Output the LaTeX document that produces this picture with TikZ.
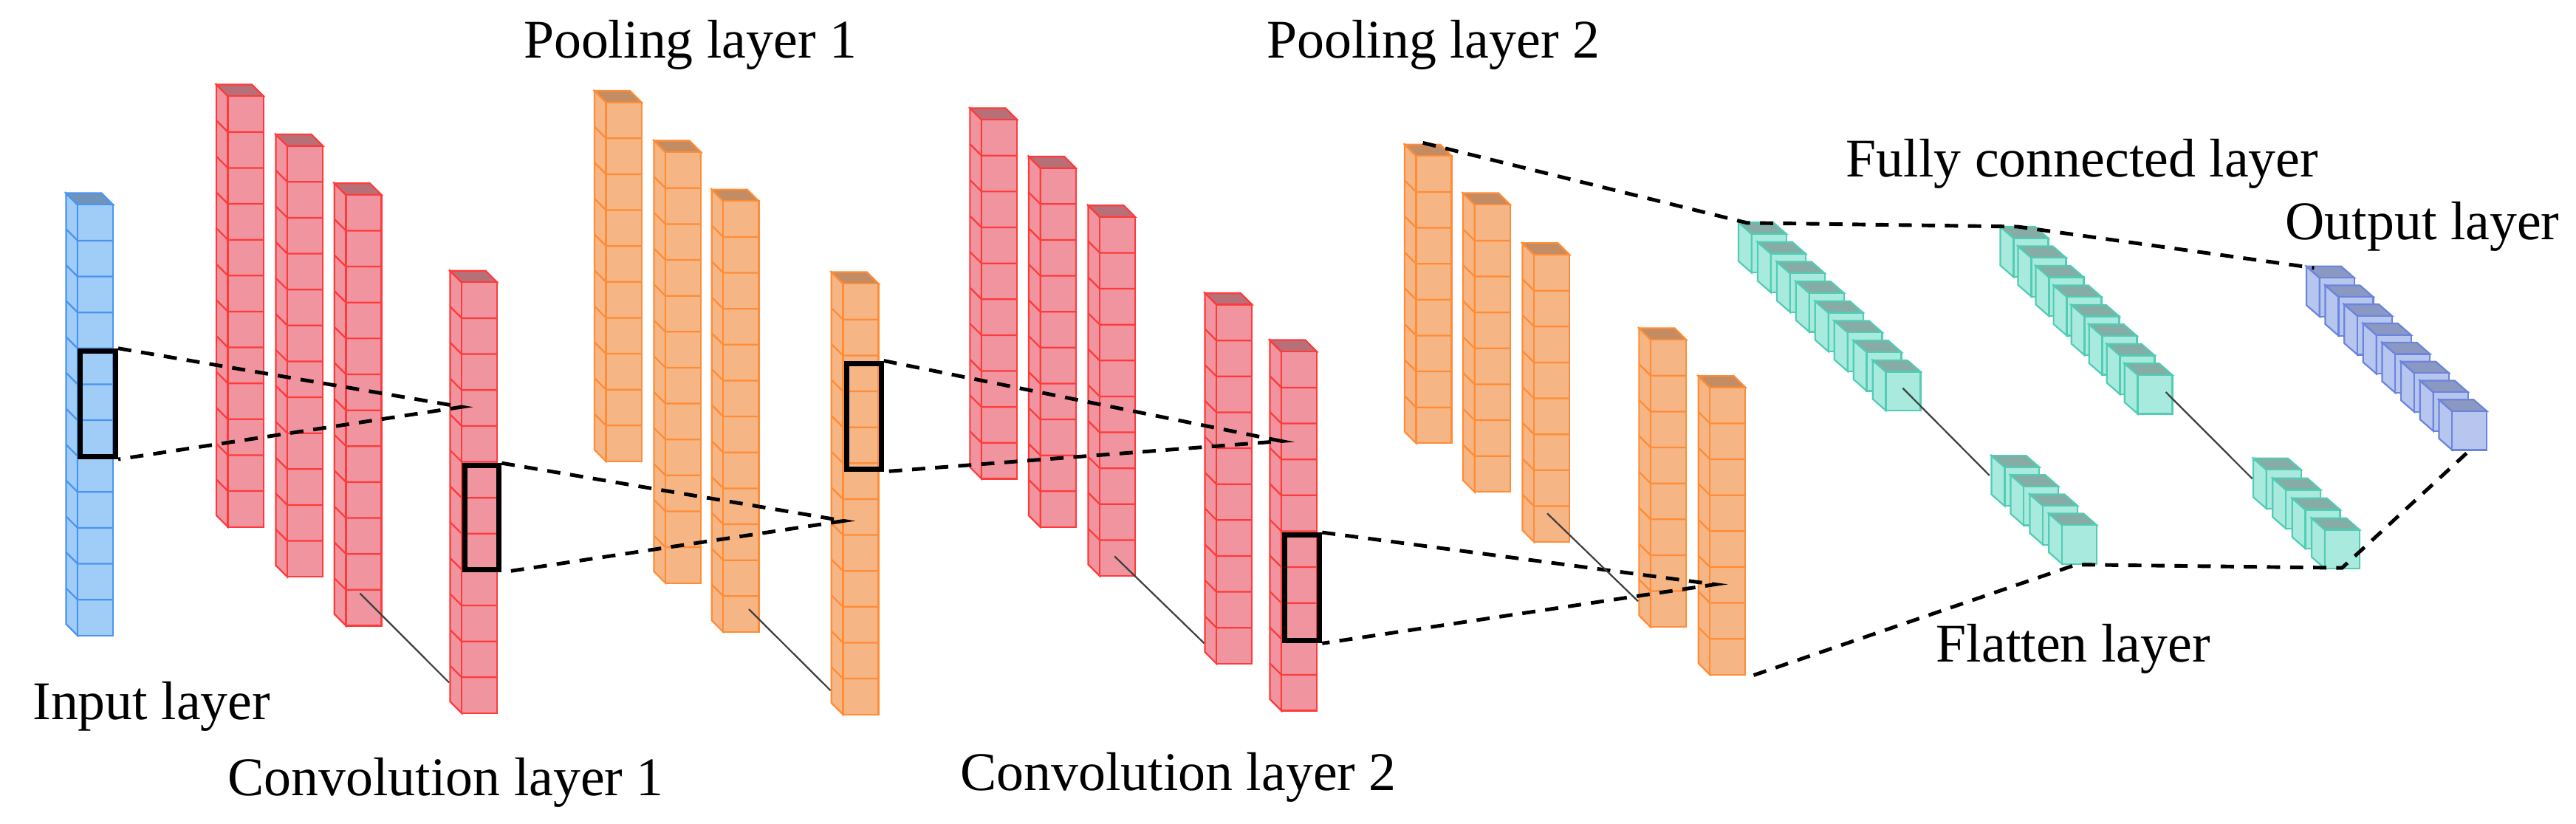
\documentclass[tikz,border=0pt]{standalone}
\usepackage{fontspec}
\setmainfont{Liberation Serif}
\definecolor{bluef}{HTML}{9FCDF8}\definecolor{bluee}{HTML}{4A94F0}\definecolor{bluet}{HTML}{6E94BC}
\definecolor{redf}{HTML}{F0959F}\definecolor{rede}{HTML}{FF3A3A}\definecolor{redt}{HTML}{B87078}
\definecolor{orgf}{HTML}{F6B584}\definecolor{orge}{HTML}{FF8C36}\definecolor{orgt}{HTML}{C48C62}
\definecolor{tealf}{HTML}{A8EADE}\definecolor{teale}{HTML}{52CCB4}\definecolor{tealt}{HTML}{86ACA6}
\definecolor{purf}{HTML}{B6C6EE}\definecolor{pure}{HTML}{6C84DC}\definecolor{purt}{HTML}{8A98C2}
\newcommand\layercol[4]{%
 \pgfmathsetmacro\Hh{#3*21.75}%
 \pgfmathtruncatemacro\nn{#3-1}%
 \filldraw[fill=#4f,draw=#4e,cellline] (#1,#2) -- ++(-7,-7) -- ++(0,\Hh) -- ++(7,7) -- cycle;
 \filldraw[fill=#4t,draw=#4e,cellline] (#1,#2) -- ++(-7,-7) -- ++(21.5,0) -- ++(7,7) -- cycle;
 \filldraw[fill=#4f,draw=#4e,cellline] (#1,#2) rectangle ++(21.5,\Hh);
 \foreach \k in {1,...,\nn}{\draw[#4e,cellline] ({#1-7},{#2+\k*21.75-7}) -- ++(7,7) -- ++(21.5,0);}
}
\newcommand\cube[3]{%
 \filldraw[fill=#3f,draw=#3e,cellline] (#1,#2) -- ++(-8,-7) -- ++(0,23.5) -- ++(8,7) -- cycle;
 \filldraw[fill=#3t,draw=#3e,cellline] (#1,#2) -- ++(-8,-7) -- ++(21,0) -- ++(8,7) -- cycle;
 \filldraw[fill=#3f,draw=#3e,cellline] (#1,#2) rectangle ++(21,23.5);
}
\newcommand\cuberow[6]{\foreach \i in {0,...,#3}{\cube{#1+\i*#4}{#2+\i*#5}{#6}}}
\begin{document}
\begin{tikzpicture}[x=0.5pt,y=-0.5pt,
  cellline/.style={line width=0.5pt},
  dashc/.style={dashed,line width=1.1pt,dash pattern=on 4pt off 3pt},
  kern/.style={draw=black,line width=1.6pt},
  thin/.style={draw=black!75,line width=0.5pt},
  lab/.style={font=\fontsize{16.5}{20}\selectfont,inner sep=0pt}]
\useasboundingbox (0,0) rectangle (1560,498.7);
% columns
\layercol{47}{124}{12}{blue}
\layercol{138}{58.2}{12}{red}
\layercol{174}{88.4}{12}{red}
\layercol{209.5}{118}{12}{red}
\layercol{279.6}{171}{12}{red}
\layercol{367}{62}{10}{org}
\layercol{403}{92.2}{12}{org}
\layercol{438}{121.8}{12}{org}
\layercol{510.5}{171.8}{12}{org}
\layercol{594.4}{72.5}{10}{red}
\layercol{630}{101.8}{10}{red}
\layercol{666}{131.4}{10}{red}
\layercol{736.7}{184.5}{10}{red}
\layercol{776}{213}{10}{red}
\layercol{857.6}{94.5}{8}{org}
\layercol{893}{124}{8}{org}
\layercol{929}{154.3}{8}{org}
\layercol{999.6}{205.8}{8}{org}
\layercol{1035.5}{234.7}{8}{org}
% cube rows
\cuberow{1060.8}{141.7}{7}{11.61}{11.93}{teal}
\cuberow{1219.4}{144.3}{7}{10.74}{11.84}{teal}
\cuberow{1404.7}{168.3}{7}{11.47}{11.54}{pur}
\cuberow{1214}{283}{3}{11.6}{11.7}{teal}
\cuberow{1372.5}{284.6}{3}{11.8}{12.1}{teal}
% kernels
\node[kern,minimum width=10.7pt,minimum height=32pt,inner sep=0pt,anchor=north west] (k1) at (47,211) {};
\node[kern,minimum width=10.3pt,minimum height=31.5pt,inner sep=0pt,anchor=north west] (k2) at (280,280.5) {};
\node[kern,minimum width=10.5pt,minimum height=32pt,inner sep=0pt,anchor=north west] (k3) at (511,218.5) {};
\node[kern,minimum width=10.5pt,minimum height=32pt,inner sep=0pt,anchor=north west] (k4) at (776.5,322.5) {};
\coordinate (p1) at (279.6,246.5);
\coordinate (p2) at (511,315.5);
\coordinate (p3) at (776,267.2);
\coordinate (p4) at (1038.6,354);
\draw[dashc] (k1.north east) -- (p1) -- (k1.south east);
\draw[dashc] (k2.north east) -- (p2) -- (k2.south east);
\draw[dashc] (k3.north east) -- (p3) -- (k3.south east);
\draw[dashc] (k4.north east) -- (p4) -- (k4.south east);
% thin lines
\coordinate (t1a) at (218,359.4); \coordinate (t1b) at (272,413.5);
\coordinate (t2a) at (453.5,369); \coordinate (t2b) at (503,418.3);
\coordinate (t3a) at (675,337); \coordinate (t3b) at (729.2,389.6);
\coordinate (t4a) at (937,311); \coordinate (t4b) at (992,364.2);
\coordinate (t5a) at (1152.3,235.1); \coordinate (t5b) at (1204.8,288);
\coordinate (t6a) at (1311.6,237.5); \coordinate (t6b) at (1364,290);
\foreach \i in {1,...,6}{\draw[thin] (t\i a) -- (t\i b);}
% FC dashed
\coordinate (d1) at (861.7,86.5);
\coordinate (d2) at (1058,135);
\coordinate (d3) at (1221.8,137.3);
\coordinate (d4) at (1401.4,162.3);
\coordinate (e1) at (1062,409);
\coordinate (e2) at (1257.3,342);
\coordinate (e3) at (1418.3,344);
\coordinate (e4) at (1494.3,274);
\draw[dashc] (d1) -- (d2) -- (d3) -- (d4);
\draw[dashc] (e1) -- (e2) -- (e3) -- (e4);
% labels
\node[lab,anchor=west] (l1) at (19.5,428) {Input layer};
\node[lab] (l2) at (270,474) {Convolution layer 1};
\node[lab] (l3) at (418,27) {Pooling layer 1};
\node[lab] (l4) at (713.6,471) {Convolution layer 2};
\node[lab] (l5) at (868,27) {Pooling layer 2};
\node[lab] (l6) at (1261,99.4) {Fully connected layer};
\node[lab] (l7) at (1467,137.3) {Output layer};
\node[lab] (l8) at (1255.5,392.9) {Flatten layer};
\end{tikzpicture}
\end{document}
